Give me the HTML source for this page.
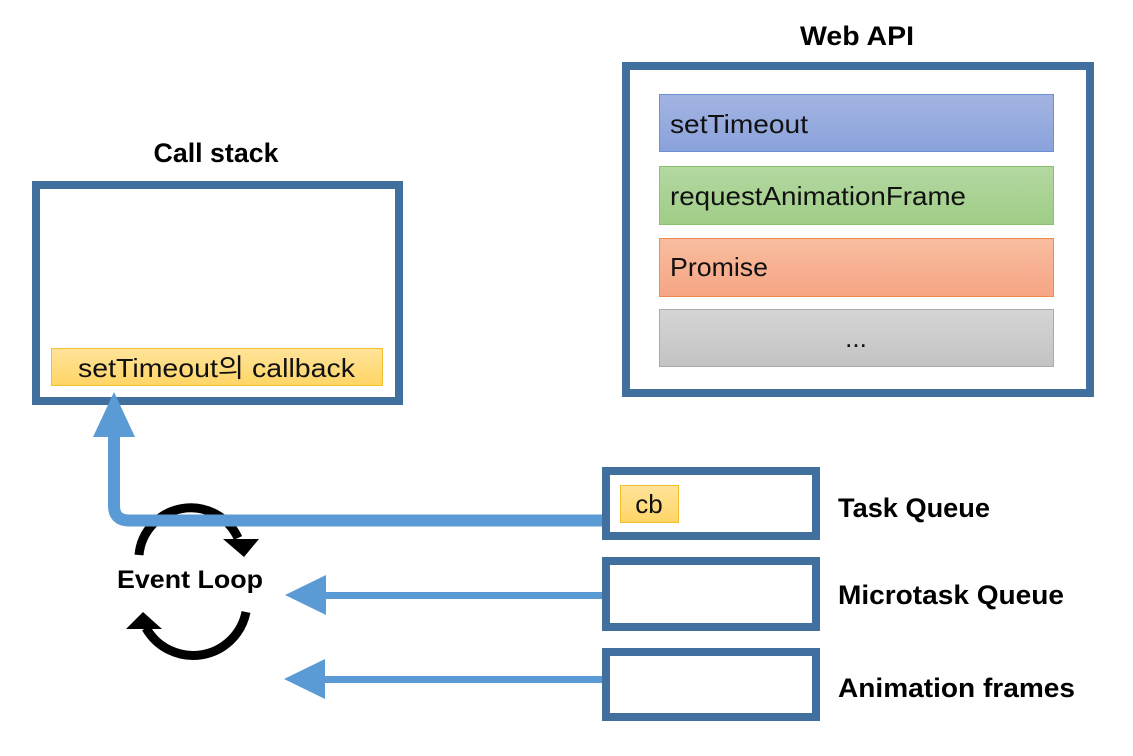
<!DOCTYPE html>
<html><head><meta charset="utf-8"><style>
html,body{margin:0;padding:0;background:#fff;}
svg{display:block;}
text{font-family:"Liberation Sans","Noto Sans CJK KR",sans-serif;}
.b{font-weight:bold;font-size:27px;fill:#000;}
.n{font-size:26px;fill:#111;}
</style></head><body>
<svg width="1133" height="756" viewBox="0 0 1133 756" xmlns="http://www.w3.org/2000/svg">
<defs>
<linearGradient id="gb" x1="0" y1="0" x2="0" y2="1"><stop offset="0" stop-color="#a3b4e2"/><stop offset="1" stop-color="#8aa2db"/></linearGradient>
<linearGradient id="gg" x1="0" y1="0" x2="0" y2="1"><stop offset="0" stop-color="#b4d8a2"/><stop offset="1" stop-color="#9fcd86"/></linearGradient>
<linearGradient id="go" x1="0" y1="0" x2="0" y2="1"><stop offset="0" stop-color="#f8bda0"/><stop offset="1" stop-color="#f6a583"/></linearGradient>
<linearGradient id="gy" x1="0" y1="0" x2="0" y2="1"><stop offset="0" stop-color="#d5d5d5"/><stop offset="1" stop-color="#c3c3c3"/></linearGradient>
<linearGradient id="gw" x1="0" y1="0" x2="0" y2="1"><stop offset="0" stop-color="#ffe39a"/><stop offset="1" stop-color="#ffd566"/></linearGradient>
</defs>

<text class="b" x="857" y="45" text-anchor="middle" textLength="114" lengthAdjust="spacingAndGlyphs">Web API</text>
<text class="b" x="216" y="162" text-anchor="middle" textLength="125" lengthAdjust="spacingAndGlyphs">Call stack</text>

<rect x="626" y="66" width="464" height="327" fill="#fff" stroke="#41709f" stroke-width="8"/>
<rect x="659.5" y="94.5" width="394" height="57" fill="url(#gb)" stroke="#6f8fd3" stroke-width="1"/>
<text class="n" x="670" y="133" textLength="138" lengthAdjust="spacingAndGlyphs">setTimeout</text>
<rect x="659.5" y="166.5" width="394" height="58" fill="url(#gg)" stroke="#8bc06d" stroke-width="1"/>
<text class="n" x="670" y="205" textLength="296" lengthAdjust="spacingAndGlyphs">requestAnimationFrame</text>
<rect x="659.5" y="238.5" width="394" height="58" fill="url(#go)" stroke="#f08a4e" stroke-width="1"/>
<text class="n" x="670" y="276" textLength="98" lengthAdjust="spacingAndGlyphs">Promise</text>
<rect x="659.5" y="309.5" width="394" height="57" fill="url(#gy)" stroke="#aaa" stroke-width="1"/>
<text class="n" x="856" y="347" text-anchor="middle">...</text>

<rect x="36" y="185" width="363" height="216" fill="#fff" stroke="#41709f" stroke-width="8"/>
<rect x="51.5" y="348.5" width="331" height="37" fill="url(#gw)" stroke="#f5c02a" stroke-width="1"/>
<text class="n" x="78" y="377" textLength="277" lengthAdjust="spacingAndGlyphs">setTimeout의 callback</text>

<rect x="606" y="471" width="210" height="65" fill="#fff" stroke="#41709f" stroke-width="8"/>
<rect x="620.5" y="485.5" width="58" height="37" fill="url(#gw)" stroke="#f5c02a" stroke-width="1"/>
<text class="n" x="649" y="513" text-anchor="middle">cb</text>
<rect x="606" y="561" width="210" height="66" fill="#fff" stroke="#41709f" stroke-width="8"/>
<rect x="606" y="652" width="210" height="65" fill="#fff" stroke="#41709f" stroke-width="8"/>

<text class="b" x="838" y="517" textLength="152" lengthAdjust="spacingAndGlyphs">Task Queue</text>
<text class="b" x="838" y="604" textLength="226" lengthAdjust="spacingAndGlyphs">Microtask Queue</text>
<text class="b" x="838" y="697" textLength="237" lengthAdjust="spacingAndGlyphs">Animation frames</text>

<path d="M139 555 A52 52 0 0 1 238 538" fill="none" stroke="#000" stroke-width="9"/>
<polygon points="223,539 259,539 244,557" fill="#000"/>
<path d="M246 612 A54 54 0 0 1 146 628" fill="none" stroke="#000" stroke-width="9"/>
<polygon points="126,629 162,629 143,612" fill="#000"/>
<text class="b" x="190" y="588" text-anchor="middle" textLength="146" lengthAdjust="spacingAndGlyphs" style="font-size:25px">Event Loop</text>

<path d="M602 520.5 L129 520.5 Q114 520.5 114 505.5 L114 430" fill="none" stroke="#5b9bd5" stroke-width="12"/>
<polygon points="114,392 93,437 135,437" fill="#5b9bd5"/>
<line x1="602" y1="595.5" x2="320" y2="595.5" stroke="#5b9bd5" stroke-width="7"/>
<polygon points="285,595 326,575 326,615" fill="#5b9bd5"/>
<line x1="602" y1="679.5" x2="320" y2="679.5" stroke="#5b9bd5" stroke-width="7"/>
<polygon points="284,679 325,659 325,699" fill="#5b9bd5"/>
</svg>
</body></html>
